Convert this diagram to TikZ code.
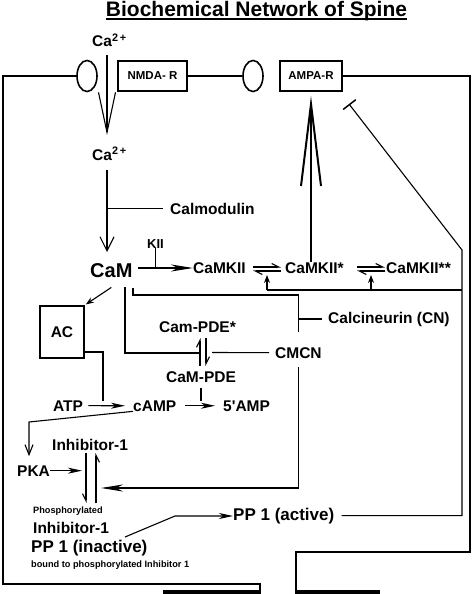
\documentclass[tikz,border=0pt]{standalone}
\usepackage{fontspec}
\setmainfont{Liberation Sans}
\usetikzlibrary{arrows.meta, shapes.geometric, calc}

\begin{document}
\begin{tikzpicture}[x=1pt, y=-1pt,
  lbl/.style={inner sep=0pt, font=\fontsize{15.5}{18}\selectfont\bfseries},
  lblbig/.style={inner sep=0pt, font=\fontsize{17}{20}\selectfont\bfseries},
  lblk/.style={inner sep=0pt, font=\fontsize{13}{15}\selectfont\bfseries},
  lblsmall/.style={inner sep=0pt, font=\fontsize{9.2}{11}\selectfont\bfseries},
  rbox/.style={draw, line width=1.5pt, inner sep=0pt, minimum height=30pt, font=\fontsize{11.5}{13}\selectfont\bfseries},
  chan/.style={ellipse, draw, line width=1.6pt, inner sep=0pt, minimum width=20pt, minimum height=31pt},
  wall/.style={line width=2.2pt},
  link/.style={line width=1.1pt},
]

% Arrow kinds
\tikzset{
  rxn/.style={link, -{Stealth[length=14pt, width=6pt, inset=4pt]}},
  rxnlong/.style={link, -{Stealth[length=22pt, width=7pt, inset=7pt]}},
  act/.style={link, -{Stealth[length=8pt, width=6pt]}},
  fwdharp/.style={link, -{Straight Barb[left, length=7pt, width=7pt]}},
  revharp/.style={link, -{Straight Barb[right, length=7pt, width=7pt]}},
  inhib/.style={link, -{Bar[width=16pt, line width=1.5pt]}},
}

\useasboundingbox (0,0) rectangle (474,594);

% =========================
% Title
% =========================
\node[inner sep=0pt, font=\fontsize{21}{24}\selectfont\bfseries, anchor=base] (title) at (256.5,16.5) {Biochemical Network of Spine};
\draw[line width=1.6pt] ([yshift=-2.5pt]title.base west) -- ([yshift=-2.5pt]title.base east);

% =========================
% Membrane and spine outline
% =========================
\node[chan] (chA) at (87,76) {};
\node[rbox, minimum width=69pt] (nmda) at (152.5,76) {NMDA- R};
\node[chan] (chB) at (253,76) {};
\node[rbox, minimum width=62pt] (ampa) at (311,76) {AMPA-R};

\draw[wall] (chA.west) -- (3,76) -- (3,584) -- (260,584) -- (260,594);
\draw[wall] (nmda.east) -- (chB.west);
\draw[wall] (ampa.east) -- (470,76) -- (470,552) -- (296,552) -- (296,594);
\draw[line width=4pt] (163,592) -- (260,592);
\draw[line width=4pt] (296,592) -- (380,592);

% =========================
% Species
% =========================
\node[lbl, anchor=base west] (caout) at (92,47) {Ca\textsuperscript{2\,+}};
\node[lbl, anchor=base west] (cain) at (92,160) {Ca\textsuperscript{2\,+}};
\node[lbl, anchor=base west] (calmod) at (170,214) {Calmodulin};
\node[inner sep=0pt, font=\fontsize{20}{22}\selectfont\bfseries, anchor=base west] (cam) at (90,277) {CaM};
\node[lblk, anchor=base west] (kii) at (147,248) {KII};
\node[lbl, anchor=base west] (ck) at (193,273) {CaMKII};
\node[lbl, anchor=base west] (cka) at (285,273) {CaMKII*};
\node[lbl, anchor=base west] (ckb) at (386,273) {CaMKII**};
\node[lbl, anchor=base west] (cn) at (328,323) {Calcineurin (CN)};
\node[rbox, line width=2pt, minimum width=44pt, minimum height=52pt, font=\fontsize{15.5}{18}\selectfont\bfseries] (ac) at (62,332) {AC};
\node[lbl, anchor=base] (pdea) at (197.5,332) {Cam-PDE*};
\node[lbl, anchor=base west] (cmcn) at (275,358) {CMCN};
\node[lbl, anchor=base] (pde) at (201,382) {CaM-PDE};
\node[lbl, anchor=base west] (atp) at (53,411) {ATP};
\node[lbl, anchor=base west] (camp) at (133,411) {cAMP};
\node[lbl, anchor=base west] (amp) at (223,411) {5\textquotesingle AMP};
\node[lbl, anchor=base west] (inh) at (52,450) {Inhibitor-1};
\node[lbl, anchor=base west] (pka) at (17,476) {PKA};
\node[lblsmall, anchor=base west] (phos) at (33,513) {Phosphorylated};
\node[lbl, anchor=base west] (inhp) at (33,533) {Inhibitor-1};
\node[lblbig, anchor=base west] (pp1i) at (31,552) {PP 1 (inactive)};
\node[lblsmall, anchor=base west] (bound) at (31,567) {bound to phosphorylated Inhibitor 1};
\node[lblbig, anchor=base west] (pp1a) at (233,520) {PP 1 (active)};

% junction points
\coordinate (caTop) at (107,55);
\coordinate (caBot) at (107,135);
\coordinate (cmTop) at (107,170);
\coordinate (cmBot) at (107,252);
\coordinate (ckIn) at (138,268);
\coordinate (eqA) at (267,269);
\coordinate (eqB) at (371,269);
\coordinate (fbR) at (462,290);
\coordinate (rtBend) at (462,250);
\coordinate (ampaBlk) at (349,104);
\coordinate (camA) at (125,287);
\coordinate (camB) at (133,288);
\coordinate (pdeEq) at (203,352);
\coordinate (pdeL) at (199,353);
\coordinate (pdeR) at (212,352.5);
\coordinate (acJ) at (103,352);
\coordinate (pkaBend) at (29,422);
\coordinate (inhEq) at (91,478);
\coordinate (dephT) at (101,488);
\coordinate (relA) at (125,537);
\coordinate (relB) at (175,516);

% =========================
% Calcium entry and calmodulin
% =========================
\draw[link, -{Straight Barb[length=40pt, width=17pt]}] (caTop) -- (caBot);
\draw[link, -{Straight Barb[length=14pt, width=14pt]}] (cmTop) -- (cmBot);
\draw[link] (calmod.west -| cmTop) -- ([xshift=-7pt]calmod.west);

% =========================
% CaMKII cascade
% =========================
\draw[rxnlong] (ckIn) -- (ckIn -| ck.west);
\draw[link] (kii.south) -- (kii.south |- ckIn);

\foreach \e in {eqA,eqB} {
  \draw[fwdharp] ($(\e)+(-14,-2)$) -- ($(\e)+(14,-2)$);
  \draw[fwdharp] ($(\e)+(14,2)$) -- ($(\e)+(-14,2)$);
}

% autophosphorylation feedback
\draw[link] (fbR) -- (fbR -| eqA);
\draw[act] (fbR -| eqA) -- ($(eqA)+(0,6)$);
\draw[act] (fbR -| eqB) -- ($(eqB)+(0,6)$);

% CaMKII* potentiates AMPA-R
\draw[link, -{Straight Barb[length=82pt, width=20pt, line width=2pt]}] (ampa.south |- cka.north) -- ([yshift=-4pt]ampa.south);

% PP1 blocks AMPA-R
\draw[inhib] ([xshift=7pt]pp1a.east) -- (pp1a.east -| rtBend) -- (rtBend) -- (ampaBlk);

% =========================
% Calcineurin and PDE
% =========================
\draw[act, shorten >=1pt] ([yshift=-10pt]cam.south) -- (ac.north east);
\draw[link] (camA) |- (pdeL);
\draw[link] (camB) -- ++(0,7) -| ([yshift=15pt]cmcn.north);
\draw[link] ([xshift=-6pt]cn.west) -- (cn.west -| cmcn.north);
\draw[link] ([xshift=-6pt]cmcn.west) -- (pdeR);

\draw[fwdharp] ($(pdeEq)+(-3,14)$) -- ($(pdeEq)+(-3,-14)$);
\draw[fwdharp] ($(pdeEq)+(3,-14)$) -- ($(pdeEq)+(3,14)$);

% =========================
% cAMP pathway
% =========================
\draw[link, shorten >=5pt] (ac.east |- acJ) -- (acJ) -- (acJ |- camp.west);
\draw[rxn, shorten <=5pt, shorten >=8pt] (atp.east) -- (camp.west);
\draw[rxn, shorten <=9pt, shorten >=8pt] (camp.east) -- (amp.west);
\draw[link, shorten <=6pt, shorten >=5pt] (pde.south) -- (pde.south |- camp.west);

\draw[link, -{Straight Barb[length=10pt, width=8pt]}, shorten >=9pt] (camp.south west) -- (pkaBend) -- (pkaBend |- pka.north);

% =========================
% Inhibitor-1 and PP1
% =========================
\draw[rxn, shorten >=9pt] (pka.east) -- (pka.east -| inhEq);
\draw[revharp] ($(inhEq)+(-5,-25)$) -- ($(inhEq)+(-5,25)$);
\draw[revharp] ($(inhEq)+(5,25)$) -- ($(inhEq)+(5,-25)$);

\draw[rxnlong, shorten <=9pt] (cmcn.south) |- (dephT);

\draw[rxn] (relA) -- (relB) -- (relB -| pp1a.west);

\end{tikzpicture}
\end{document}
